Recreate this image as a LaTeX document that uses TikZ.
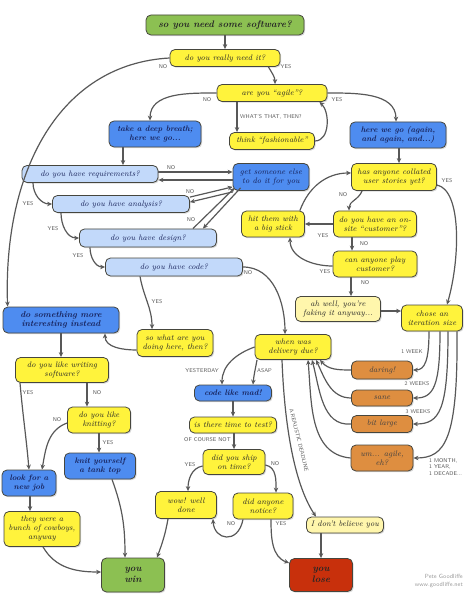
\documentclass[tikz,border=0pt]{standalone}
\usepackage{tikz}
\usetikzlibrary{arrows.meta}
\usetikzlibrary{shadows}
\definecolor{qyellow}{RGB}{255,243,60}
\definecolor{pyellow}{RGB}{255,246,172}
\definecolor{lblue}{RGB}{194,217,250}
\definecolor{dblue}{RGB}{78,140,240}
\definecolor{sgreen}{RGB}{140,192,82}
\definecolor{orng}{RGB}{222,142,64}
\definecolor{lred}{RGB}{200,48,12}
\definecolor{rim}{RGB}{70,70,62}
\definecolor{wire}{RGB}{88,88,88}
\definecolor{navy}{RGB}{22,32,88}
\tikzset{
   box/.style={draw=rim, line width=0.8pt, rounded corners=5pt, align=center,
      inner sep=1pt, text=black!85,
      font=\fontsize{8}{9}\selectfont\itshape,
      drop shadow={shadow xshift=1.2pt, shadow yshift=-1.2pt, opacity=0.3}},
   question/.style={box, fill=qyellow},
   pale/.style={box, fill=pyellow},
   plan/.style={box, fill=lblue, text=navy},
   act/.style={box, fill=dblue, text=navy, font=\fontsize{8}{9}\selectfont\bfseries\itshape},
   iter/.style={box, fill=orng, text=black!75},
   startbox/.style={box, fill=sgreen, font=\fontsize{9.5}{11}\selectfont\bfseries\itshape},
   winbox/.style={box, fill=sgreen, font=\fontsize{9.5}{11}\selectfont\bfseries\itshape},
   losebox/.style={box, fill=lred, font=\fontsize{9.5}{11}\selectfont\bfseries\itshape},
   link/.style={draw=wire, line width=1.2pt, -{Stealth[length=5pt,width=4.5pt]}},
   cond/.style={font=\sffamily\fontsize{5.5}{6.5}\selectfont, text=wire, inner sep=0pt},
   credit/.style={font=\sffamily\fontsize{6}{7.5}\selectfont, text=black!40, align=right, inner sep=0pt},
}
\begin{document}
\begin{tikzpicture}[x=1pt,y=-1pt]
\useasboundingbox (0,0) rectangle (474,609);

\node[startbox, minimum width=158, minimum height=20] (need) at (225,25) {so you need some software?};
\node[question, minimum width=110, minimum height=17] (really) at (225,58) {do you really need it?};
\node[question, minimum width=110, minimum height=17] (agile) at (272,93) {are you “agile”?};
\node[act, minimum width=92, minimum height=26] (breath) at (155,134) {take a deep breath;\\ here we go...};
\node[question, minimum width=85, minimum height=17] (fashion) at (272,141) {think “fashionable”};
\node[act, minimum width=96, minimum height=26] (again) at (398,135) {here we go (again,\\ and again, and...)};
\node[plan, minimum width=136, minimum height=17] (reqs) at (90,174) {do you have requirements?};
\node[act, minimum width=76, minimum height=27, font=\fontsize{8}{9}\selectfont\itshape] (someone) at (271,177) {get someone else\\ to do it for you};
\node[question, minimum width=85, minimum height=27] (stories) at (394,177) {has anyone collated\\ user stories yet?};
\node[plan, minimum width=137, minimum height=17] (analysis) at (121,204) {do you have analysis?};
\node[question, minimum width=63, minimum height=26] (stick) at (273,224) {hit them with\\ a big stick};
\node[question, minimum width=83, minimum height=26] (onsite) at (375,224) {do you have an on-\\ site “customer”?};
\node[plan, minimum width=137, minimum height=18] (design) at (148,238) {do you have design?};
\node[plan, minimum width=137, minimum height=18] (code) at (174,267) {do you have code?};
\node[question, minimum width=84, minimum height=26] (play) at (375,264) {can anyone play\\ customer?};
\node[pale, minimum width=85, minimum height=25] (faking) at (338,309) {ah well, you're\\ faking it anyway...};
\node[question, minimum width=61, minimum height=26] (iteration) at (432,318) {chose an\\ iteration size};
\node[act, minimum width=116, minimum height=26, font=\fontsize{8.5}{9.5}\selectfont\bfseries\itshape] (other) at (61,320) {do something more\\ interesting instead};
\node[question, minimum width=76, minimum height=27] (here) at (175,343) {so what are you\\ doing here, then?};
\node[question, minimum width=76, minimum height=25] (due) at (293,347) {when was\\ delivery due?};
\node[question, minimum width=93, minimum height=25] (writing) at (62,370) {do you like writing\\ software?};
\node[act, minimum width=77, minimum height=16] (mad) at (233,393) {code like mad!};
\node[iter, minimum width=61, minimum height=18] (daring) at (382,370) {daring!};
\node[iter, minimum width=61, minimum height=16] (sane) at (382,398) {sane};
\node[iter, minimum width=61, minimum height=17] (large) at (382,424) {bit large};
\node[iter, minimum width=62, minimum height=26] (um) at (382,458) {um... agile,\\ eh?};
\node[question, minimum width=63, minimum height=26] (knitting) at (99,420) {do you like\\ knitting?};
\node[question, minimum width=87, minimum height=16] (test) at (233,425) {is there time to test?};
\node[question, minimum width=62, minimum height=25] (ship) at (234,462) {did you ship\\ on time?};
\node[act, minimum width=71, minimum height=26] (tanktop) at (100,466) {knit yourself\\ a tank top};
\node[act, minimum width=54, minimum height=26] (job) at (29,483) {look for a\\ new job};
\node[question, minimum width=61, minimum height=27] (done) at (186,505) {wow! well\\ done};
\node[question, minimum width=60, minimum height=26] (notice) at (263,506) {did anyone\\ notice?};
\node[question, minimum width=76, minimum height=35] (cowboys) at (42,529) {they were a\\ bunch of cowboys,\\ anyway};
\node[pale, minimum width=77, minimum height=16] (believe) at (345,525) {I don't believe you};
\node[winbox, minimum width=63, minimum height=34] (win) at (133,575) {you\\ win};
\node[losebox, minimum width=63, minimum height=33] (lose) at (321,575) {you\\ lose};
\node[credit, anchor=east] (author) at (463,581) {Pete Goodliffe\\ www.goodliffe.net};

\draw[link] (need) -- (really);
\draw[link] (really.west) .. controls (60,64) and (3,170) .. ([xshift=5]other.north west);
\node[cond] at (163,67) {NO};
\draw[link] ([xshift=-12]really.south east) to[out=-60,in=90] ([xshift=3]agile.north);
\node[cond] at (286,67) {YES};
\draw[link] (agile.west) to[out=180,in=90] ([xshift=-5]breath.north);
\node[cond] at (207,100) {NO};
\draw[link] (agile.east) to[out=0,in=90] ([xshift=-2]again.north);
\node[cond] at (337,100) {YES};
\draw[link] ([xshift=-35]agile.south) -- ([xshift=-35]agile.south |- fashion.north);
\node[cond, anchor=west] at (240,117) {WHAT'S THAT, THEN?};
\draw[link] (fashion.east) .. controls (330,141) and (330,112) .. ([xshift=-8]agile.south east);

\draw[link] ([xshift=-32]breath.south) -- ([xshift=-32]breath.south |- reqs.north);
\draw[link] ([yshift=2]reqs.east) -- ([yshift=2]reqs.east -| someone.west);
\draw[link] ([yshift=-3]someone.west) -- ([yshift=-3]someone.west -| reqs.east);
\node[cond] at (171,168) {NO};
\draw[link] ([yshift=-2]analysis.north east) -- ([yshift=4]someone.south west);
\draw[link] ([yshift=-1]someone.south west) -- ([yshift=-7]analysis.north east);
\node[cond] at (190,192) {NO};
\draw[link] ([xshift=-24]design.north east) -- ([shift={(2,-3)}]someone.south west);
\draw[link] ([shift={(8,-3)}]someone.south west) -- ([xshift=-14]design.north east);
\node[cond] at (191,220) {NO};

\draw[link] ([xshift=-57]reqs.south) to[out=-90,in=180] (analysis.west);
\node[cond] at (28,204) {YES};
\draw[link] ([xshift=-60]analysis.south) to[out=-90,in=180] (design.west);
\node[cond] at (53,229) {YES};
\draw[link] ([xshift=-58]design.south) to[out=-90,in=180] (code.west);
\node[cond] at (78,256) {YES};
\draw[link] ([xshift=-34]code.south) to[out=-80,in=90] ([xshift=-23]here.north);
\node[cond] at (157,302) {YES};
\draw[link] ([yshift=-7]here.west) to[out=180,in=-90] ([xshift=44]other.south);
\draw[link] (code.east) to[out=0,in=90] ([xshift=-8]due.north);
\node[cond] at (248,273) {NO};

\draw[link] ([xshift=1]again.south) -- ([xshift=1]again.south |- stories.north);
\draw[link] ([xshift=-32]stories.south) to[out=-110,in=90] ([xshift=-26]onsite.north);
\node[cond] at (343,195) {NO};
\draw[link] ([yshift=-8]stories.east) .. controls (462,190) and (460,260) .. ([xshift=15]iteration.north);
\node[cond] at (447,181) {YES};
\draw[link] (onsite.west) -- (stick.east);
\node[cond] at (323,236) {YES};
\draw[link] ([xshift=-5]stick.north east) to[out=70,in=180] ([yshift=4]stories.west);
\draw[link] ([xshift=-23]onsite.south) -- ([xshift=-23]onsite.south |- play.north);
\node[cond] at (364,244) {NO};
\draw[link] ([yshift=-2]play.west) to[out=180,in=-90] ([xshift=17]stick.south);
\node[cond] at (325,272) {YES};
\draw[link] ([xshift=-24]play.south) -- ([xshift=-24]play.south |- faking.north);
\node[cond] at (365,283) {NO};
\draw[link] ([yshift=-2]faking.east) -- ([yshift=-2]faking.east -| iteration.west);

\draw[link] ([xshift=-3]iteration.south) .. controls (429,360) and (425,370) .. (daring.east);
\node[cond] at (412,352) {1 WEEK};
\draw[link] ([xshift=8]iteration.south) .. controls (440,385) and (434,398) .. (sane.east);
\node[cond] at (417,384) {2 WEEKS};
\draw[link] ([xshift=16]iteration.south) .. controls (448,410) and (440,424) .. (large.east);
\node[cond] at (418,412) {3 WEEKS};
\draw[link] ([xshift=25]iteration.south) .. controls (458,440) and (445,458) .. (um.east);
\node[cond, anchor=west, align=left] at (429,467) {1 MONTH,\\ 1 YEAR,\\ 1 DECADE...};

\draw[link] (daring.west) to[out=180,in=-50] ([xshift=27]due.south);
\draw[link] (sane.west) to[out=180,in=-65] ([xshift=23]due.south);
\draw[link] (large.west) to[out=185,in=-75] ([xshift=19]due.south);
\draw[link] (um.west) to[out=175,in=-85] ([xshift=15]due.south);

\draw[link] (due.west) to[out=200,in=90] ([xshift=-11]mad.north);
\node[cond] at (202,371) {YESTERDAY};
\draw[link] ([xshift=-36]due.south) to[out=-100,in=85] ([xshift=20]mad.north);
\node[cond, anchor=west] at (257,371) {ASAP};
\draw[link] ([xshift=-11]due.south) .. controls (285,440) and (298,490) .. ([xshift=-29]believe.north);
\node[cond, rotate=-76] at (299,440) {A REALISTIC DEADLINE};
\draw[link] (mad.south) -- (mad.south |- test.north);
\draw[link] ([xshift=1]test.south) -- ([xshift=1]test.south |- ship.north);
\node[cond, anchor=east] at (231,440) {OF COURSE NOT};
\draw[link] ([yshift=-4]ship.west) to[out=190,in=90] ([xshift=2]done.north);
\node[cond] at (190,465) {YES};
\draw[link] ([yshift=-3]ship.east) to[out=-10,in=90] ([xshift=13]notice.north);
\node[cond] at (275,464) {NO};
\draw[link] ([xshift=-20]notice.south) .. controls (238,545) and (214,540) .. ([xshift=27]done.south);
\node[cond] at (231,524) {NO};
\draw[link] ([xshift=8]notice.south) to[out=-90,in=160] ([yshift=12]lose.west);
\node[cond] at (281,524) {YES};
\draw[link] ([xshift=-24]believe.south) -- ([xshift=-24]believe.south |- lose.north);

\draw[link] ([xshift=-18]done.south) to[out=-100,in=70] ([xshift=24]win.north);
\draw[link] ([xshift=12]tanktop.south) to[out=-70,in=90] ([xshift=-8]win.north);
\draw[link] ([xshift=1]cowboys.south) to[out=-60,in=180] ([yshift=3]win.west);
\draw[link] ([xshift=1]job.south) -- ([xshift=1]job.south |- cowboys.north);
\draw[link] (other.south) -- (other.south |- writing.north);
\draw[link] ([xshift=-42]writing.south) to[out=-85,in=95] (job.north);
\node[cond] at (28,393) {YES};
\draw[link] ([xshift=25]writing.south) -- ([xshift=25]writing.south |- knitting.north);
\node[cond] at (97,393) {NO};
\draw[link] ([yshift=-3]knitting.west) to[out=200,in=80] ([xshift=13]job.north);
\node[cond] at (57,420) {NO};
\draw[link] (knitting.south) -- (knitting.south |- tanktop.north);
\node[cond] at (108,443) {YES};
\end{tikzpicture}
\end{document}
